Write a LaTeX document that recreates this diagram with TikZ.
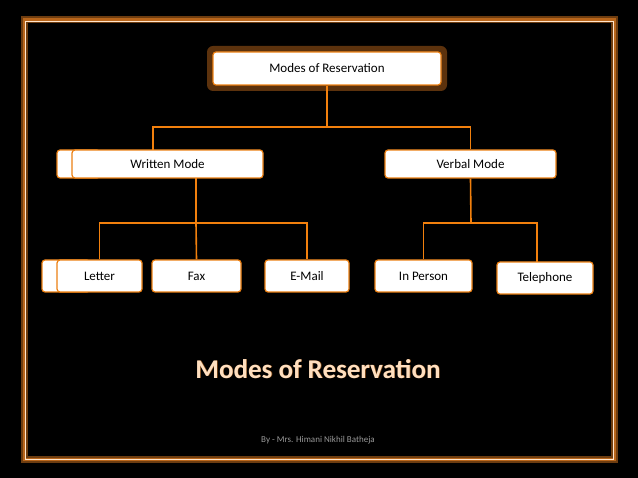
\documentclass[tikz,border=0pt]{standalone}
\usepackage{fontspec}
\setmainfont{Carlito}
\tikzset{
  box/.style={draw=orange!70!brown, line width=1.2pt, fill=white, rounded corners=3pt, font=\fontsize{13}{15}\selectfont, text=black},
  link/.style={draw=orange!80!brown, line width=1.6pt},
}
\definecolor{glow}{HTML}{B8651A}
\begin{document}
\begin{tikzpicture}[x=1pt,y=-1pt]
\fill[black] (0,0) rectangle (638,478);
\useasboundingbox (0,0) rectangle (638,478);
% frame
\draw[glow!60!black, line width=7pt] (24,20) rectangle (614,460);
\draw[glow, line width=3pt] (24,20) rectangle (614,460);
\draw[white!80!orange, line width=0.8pt] (25,21) rectangle (613,459);
% glow around top
\fill[glow!50!black, rounded corners=6pt] (207,46) rectangle (447,91);
% boxes
\node[box, minimum width=228, minimum height=33] (top) at (327,68.5) {Modes of Reservation};
\draw[box] (57,150) rectangle (100,178);
\node[box, minimum width=191, minimum height=28] (wm) at (167.5,164) {Written Mode};
\node[box, minimum width=171, minimum height=28] (vm) at (470.5,164) {Verbal Mode};
\draw[box] (42,260) rectangle (90,292);
\node[box, minimum width=85, minimum height=32] (let) at (99.5,276) {Letter};
\node[box, minimum width=89, minimum height=32] (fax) at (196.5,276) {Fax};
\node[box, minimum width=84, minimum height=32] (em) at (307,276) {E-Mail};
\node[box, minimum width=97, minimum height=32] (ip) at (423.5,276) {In Person};
\node[box, minimum width=96, minimum height=32] (tel) at (545,278) {Telephone};
% connectors
\coordinate (j1) at (327,127);
\coordinate (j2) at (196,223);
\coordinate (j3) at (471,223);
\draw[link] (top.south) -- (j1);
\draw[link] (j1) -| (153,150);
\draw[link] (j1) -| (vm.north);
\draw[link] (196,178) -- (j2);
\draw[link] (j2) -| (let.north);
\draw[link] (j2) -- (fax.north);
\draw[link] (j2) -| (em.north);
\draw[link] (vm.south) -- (j3);
\draw[link] (j3) -| (ip.north);
\draw[link] (j3) -| (537,262);
% title
\node[font=\bfseries\fontsize{27}{30}\selectfont, text=glow!70!black] at (318.6,369.6) {Modes of Reservation};
\node[font=\bfseries\fontsize{27}{30}\selectfont, text=orange!25!white] (title) at (318,369) {Modes of Reservation};
\node[font=\fontsize{9}{11}\selectfont, text=gray!80] (by) at (318,440) {By - Mrs. Himani Nikhil Batheja};
\end{tikzpicture}
\end{document}
